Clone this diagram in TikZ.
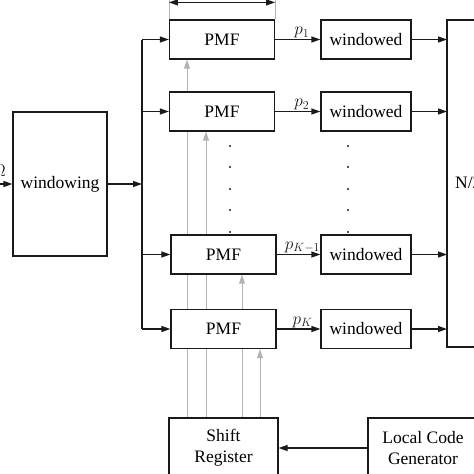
\documentclass[tikz,border=0pt]{standalone}
\usepackage{fontspec}
\setmainfont{Liberation Serif}
\usepackage{tikz}
\usetikzlibrary{arrows.meta,calc,backgrounds}
\definecolor{pmink}{HTML}{1A1A1A}
\definecolor{pmctl}{HTML}{B4B4B4}
\tikzset{
  bx/.style={draw=pmink, line width=1.2pt, fill=white, align=center, inner sep=0pt, font=\fontsize{17.5}{21}\selectfont},
  pmf/.style={bx, minimum width=105pt, minimum height=39pt},
  wnd/.style={bx, minimum width=90pt, minimum height=39pt},
  arr/.style={-{Triangle[length=9pt,width=6pt]}, line width=1.2pt, color=pmink},
  dbl/.style={{Triangle[length=9pt,width=6pt]}-{Triangle[length=9pt,width=6pt]}, line width=1.2pt, color=pmink},
  ln/.style={line width=1.2pt, color=pmink},
  ctl/.style={-{Triangle[length=9pt,width=6pt]}, line width=0.9pt, color=pmctl},
  ext/.style={line width=0.6pt, color=pmctl},
  lbl/.style={font=\fontsize{17.5}{21}\selectfont, inner sep=1pt},
}

\begin{document}
\begin{tikzpicture}[x=1pt, y=-1pt]
    \useasboundingbox (0,0) rectangle (474,474);
    % input and windowing
    \node[bx, minimum width=94pt, minimum height=144pt] (win) at (60,184) {windowing};
    \coordinate (in) at (0,184);
    \coordinate (bus) at (142,184);
    \draw[arr] (in) -- (win.west);
    \node[lbl] (om) at (0,171) {$\Omega$};
    \draw[arr] (win.east) -- (bus);
    % filter bank
    \foreach \nm/\x/\y/\tx in {
      1/222/39.5/{p_{1}},
      2/222/111.5/{p_{2}},
      3/223.5/254.5/{p_{K-1}},
      4/223.5/329/{p_{K}}}
    {
      \node[pmf] (pm\nm) at (\x,\y) {PMF};
      \node[wnd] (wd\nm) at (366,\y) {windowed};
      \draw[arr] (pm\nm) -- node[lbl, above, xshift=4pt]{$\tx$} (wd\nm);
      \draw[arr] (pm\nm.west -| bus) -- (pm\nm.west);
      \draw[arr] (wd\nm.east) -- (wd\nm.east -| 447,0);
    }
    \draw[ln] (pm1.west -| bus) -- (pm4.west -| bus);
    % dots
    \foreach \y in {146,167,189,210,232}
    { \fill[pmink] (230,\y) circle (1.2pt) (348,\y) circle (1.2pt); }
    % combiner (cut at the border)
    \node[bx, minimum width=60pt, minimum height=327pt] (nb) at (477,183.5) {};
    \node[lbl, anchor=west] (nt) at (454,183) {N/2};
    % width marker
    \draw[ext] (pm1.north west) -- ([yshift=19pt]pm1.north west);
    \draw[ext] (pm1.north east) -- ([yshift=19pt]pm1.north east);
    \draw[dbl] ([yshift=17pt]pm1.north west) -- ([yshift=17pt]pm1.north east);
    % code generation
    \node[bx, minimum width=109pt, minimum height=60pt] (sr) at (223.5,448) {Shift\\Register};
    \node[bx, minimum width=110pt, minimum height=60pt] (lcg) at (423,448) {Local Code\\Generator};
    \draw[arr] (lcg) -- (sr);
    \foreach \i/\xx in {1/187, 2/206, 3/242, 4/260}
    { \coordinate (c\i) at (\xx,0); }
    \begin{scope}[on background layer]
      \foreach \i in {1,...,4}
      { \draw[ctl] (c\i |- sr.north) -- (c\i |- pm\i.south); }
    \end{scope}
  \end{tikzpicture}
\end{document}
